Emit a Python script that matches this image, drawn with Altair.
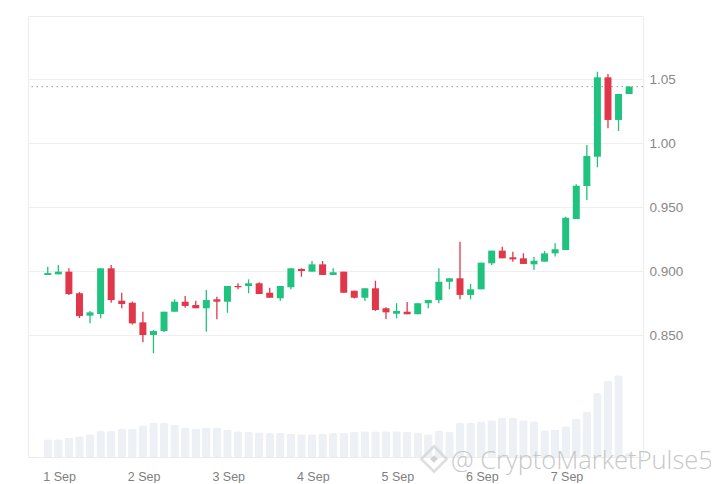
import altair as alt
import pandas as pd

# ---- data (3-hour candles, 1 Sep 00:00 .. 7 Sep 21:00) ----
day_labels = ["1 Sep", "2 Sep", "3 Sep", "4 Sep", "5 Sep", "6 Sep", "7 Sep"]
price_ticks = [0.85, 0.90, 0.95, 1.00, 1.05]

opens = [0.8969, 0.8974, 0.8995, 0.8826, 0.8651, 0.8664, 0.9021, 0.8768, 0.8752, 0.8599,
         0.8500, 0.8531, 0.8682, 0.8760, 0.8734, 0.8709, 0.8779, 0.8760, 0.8883, 0.8883,
         0.8904, 0.8830, 0.8787, 0.8873, 0.9016, 0.8995, 0.9052, 0.8969, 0.8995, 0.8846,
         0.8791, 0.8865, 0.8709, 0.8666, 0.8682, 0.8662, 0.8748, 0.8773, 0.8916, 0.8943,
         0.8813, 0.8857, 0.9060, 0.9159, 0.9107, 0.9099, 0.9052, 0.9073, 0.9138, 0.9164,
         0.9406, 0.9664, 0.9893, 1.0513, 1.0180, 1.0383]
closes = [0.8984, 0.8995, 0.8820, 0.8648, 0.8677, 0.9021, 0.8773, 0.8742, 0.8591, 0.8500,
          0.8531, 0.8682, 0.8760, 0.8727, 0.8709, 0.8773, 0.8760, 0.8883, 0.8873, 0.8904,
          0.8820, 0.8791, 0.8883, 0.9021, 0.9000, 0.9052, 0.8969, 0.8990, 0.8830, 0.8791,
          0.8865, 0.8695, 0.8677, 0.8688, 0.8662, 0.8748, 0.8773, 0.8916, 0.8943, 0.8813,
          0.8857, 0.9065, 0.9159, 0.9099, 0.9091, 0.9055, 0.9080, 0.9138, 0.9170, 0.9416,
          0.9666, 0.9898, 1.0513, 1.0180, 1.0383, 1.0440]
highs = [0.9034, 0.9047, 0.9021, 0.8836, 0.8688, 0.9021, 0.9047, 0.8830, 0.8762, 0.8682,
         0.8539, 0.8682, 0.8779, 0.8805, 0.8768, 0.8852, 0.8799, 0.8883, 0.8904, 0.8935,
         0.8912, 0.8870, 0.8883, 0.9021, 0.9021, 0.9078, 0.9078, 0.9021, 0.8995, 0.8846,
         0.8865, 0.8924, 0.8716, 0.8748, 0.8758, 0.8748, 0.8773, 0.9021, 0.8943, 0.9229,
         0.8898, 0.9065, 0.9159, 0.9190, 0.9151, 0.9138, 0.9112, 0.9156, 0.9216, 0.9424,
         0.9677, 0.9984, 1.0557, 1.0539, 1.0383, 1.0445]
lows = [0.8969, 0.8974, 0.8813, 0.8633, 0.8591, 0.8630, 0.8752, 0.8709, 0.8582, 0.8443,
        0.8357, 0.8523, 0.8682, 0.8713, 0.8709, 0.8526, 0.8623, 0.8674, 0.8857, 0.8826,
        0.8820, 0.8791, 0.8768, 0.8857, 0.8955, 0.8995, 0.8969, 0.8969, 0.8830, 0.8785,
        0.8766, 0.8688, 0.8625, 0.8630, 0.8662, 0.8662, 0.8709, 0.8748, 0.8857, 0.8779,
        0.8779, 0.8857, 0.9047, 0.9099, 0.9073, 0.9055, 0.9008, 0.9073, 0.9113, 0.9164,
        0.9406, 0.9555, 0.9810, 1.0115, 1.0094, 1.0383]
volumes = [1.77, 1.77, 1.90, 2.07, 2.27, 2.60, 2.60, 2.84, 2.84, 3.17,
           3.40, 3.40, 3.24, 2.94, 2.84, 2.94, 2.94, 2.74, 2.57, 2.50,
           2.44, 2.40, 2.40, 2.34, 2.27, 2.27, 2.34, 2.40, 2.40, 2.50,
           2.57, 2.57, 2.57, 2.57, 2.50, 2.40, 2.27, 2.60, 2.50, 3.40,
           3.40, 3.50, 3.67, 3.94, 3.94, 3.67, 3.57, 2.67, 2.74, 3.07,
           3.84, 4.50, 6.40, 7.60, 8.17, 0.40]
watermark = "@ CryptoMarketPulse5"

GREEN = "#1fc27e"
RED = "#e0384a"

df = pd.DataFrame({
    "i": list(range(len(opens))),
    "open": opens, "close": closes, "high": highs, "low": lows, "volume": volumes,
})
df["dir"] = ["up" if c >= o else "down" for o, c in zip(opens, closes)]

xscale = alt.Scale(domain=[-1.396, 55.84], nice=False, zero=False)
yscale = alt.Scale(domain=[0.754688, 1.099219], nice=False, zero=False)
color = alt.Color("dir:N", scale=alt.Scale(domain=["up", "down"], range=[GREEN, RED]), legend=None)

x_label_expr = "[" + ",".join("'%s'" % d for d in day_labels) + "][round(datum.value / 8)]"
xaxis = alt.Axis(values=[8 * k for k in range(len(day_labels))], labelExpr=x_label_expr,
                 grid=False, ticks=False, domain=False, labelAlign="left", labelOffset=-5,
                 labelPadding=13, labelFontSize=12.5, labelColor="#808080",
                 labelFont="Liberation Sans", labelOverlap=False, labelFlush=False, title=None)
yaxis = alt.Axis(orient="right", values=price_ticks,
                 labelExpr="datum.value >= 0.999 ? format(datum.value, '.2f') : format(datum.value, '.3f')",
                 grid=True, gridColor="#efefef", gridWidth=1, ticks=False, domain=False,
                 labelPadding=6, labelFontSize=13.5, labelColor="#888888",
                 labelFont="Liberation Sans", title=None)

xenc = alt.X("i:Q", scale=xscale, axis=xaxis)

base = alt.Chart(df)

vol = base.mark_bar(size=8.5, color="#edf0f4", cornerRadiusTopLeft=2, cornerRadiusTopRight=2).encode(
    x=xenc,
    y=alt.Y("volume:Q", scale=alt.Scale(domain=[0, 44.1], nice=False), axis=None),
)

grid_layer = base.mark_rule(opacity=0).encode(
    x=xenc,
    y=alt.Y("close:Q", scale=yscale, axis=yaxis),
)

last = alt.Chart(pd.DataFrame({"p": [closes[-1]]})).mark_rule(
    strokeDash=[1.5, 3.5], color="#9a9a9a", strokeWidth=1).encode(
    y=alt.Y("p:Q", scale=yscale, axis=None),
)

wick = base.mark_rule(strokeWidth=1.3).encode(
    x=xenc,
    y=alt.Y("low:Q", scale=yscale, axis=None),
    y2="high:Q",
    color=color,
)

body = base.mark_bar(size=7).encode(
    x=xenc,
    y=alt.Y("open:Q", scale=yscale, axis=None),
    y2="close:Q",
    color=color,
)

wm = pd.DataFrame({"t": [watermark]})
logo_outer = alt.Chart(wm).mark_point(shape="diamond", size=650, filled=False, strokeWidth=2.5,
                                      color="#d2d2d2").encode(x=alt.value(406), y=alt.value(443))
logo_inner = alt.Chart(wm).mark_point(shape="diamond", size=60, filled=True, opacity=1,
                                      color="#d2d2d2").encode(x=alt.value(406), y=alt.value(443))
wm_text = alt.Chart(wm).mark_text(align="left", baseline="alphabetic", fontSize=25.5,
                                  font="Open Sans", fontWeight=300, color="#c8c8c8").encode(
    x=alt.value(423), y=alt.value(453), text="t:N")

chart = alt.layer(vol, grid_layer, last, wick, body, logo_outer, logo_inner, wm_text).resolve_scale(
    y="independent"
).properties(
    width=615, height=441,
    autosize=alt.AutoSizeParams(type="none"),
    padding={"left": 20, "top": 8, "right": 68, "bottom": 26},
    background="white",
).configure_view(stroke="#ececec", strokeWidth=1)

chart.save("out.html", embed_options={"renderer": "svg", "actions": False})
